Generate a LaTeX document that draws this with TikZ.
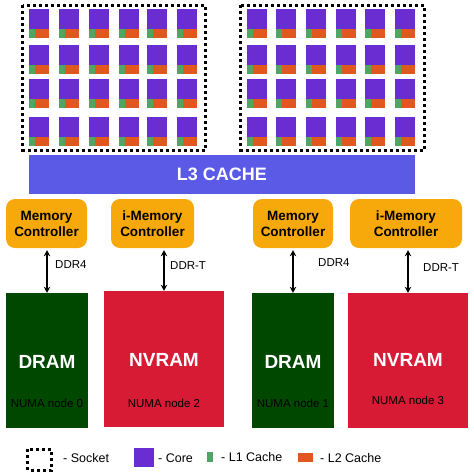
\documentclass[tikz,border=0pt]{standalone}
\usepackage{fontspec}
\setmainfont{Liberation Sans}
\usetikzlibrary{arrows.meta}
\definecolor{corepurple}{RGB}{106,45,210}
\definecolor{lonegreen}{RGB}{80,165,100}
\definecolor{ltwoorange}{RGB}{224,88,32}
\definecolor{lthreeblue}{RGB}{90,90,230}
\definecolor{ctrlorange}{RGB}{247,168,10}
\definecolor{dramgreen}{RGB}{0,72,0}
\definecolor{nvramred}{RGB}{216,27,52}
\begin{document}
\begin{tikzpicture}[x=1pt,y=-1pt]
\useasboundingbox (0,0) rectangle (474,474);
\tikzset{
  sock/.style={draw=black, line width=3pt, dash pattern=on 3pt off 3pt},
  ctrlbox/.style={fill=ctrlorange, rounded corners=9pt, minimum height=49pt, inner sep=0pt,
    align=center, font=\bfseries\fontsize{13.5}{16}\selectfont},
  membox/.style={minimum height=135pt, inner sep=0pt},
  memtitle/.style={text=white, inner sep=0pt, font=\bfseries\fontsize{19}{22}\selectfont},
  numatxt/.style={text=black, inner sep=0pt, font=\fontsize{11.5}{13}\selectfont},
  ddrtxt/.style={anchor=west, inner sep=0pt, font=\fontsize{11.5}{13}\selectfont},
  legtxt/.style={anchor=west, inner sep=0pt, font=\fontsize{12.5}{14}\selectfont},
  bus/.style={line width=1.5pt, {Stealth[length=6pt,width=6.5pt]}-{Stealth[length=6pt,width=6.5pt]}},
}
% sockets
\draw[sock] (22.5,5) rectangle (205,150);
\draw[sock] (240.5,5) rectangle (424,150);
% cores
\foreach \x in {29.3,58.7,88.7,118.7,147.3,177.3,246.7,276.3,306.3,336.3,365,395}{
  \foreach \y in {9.3,45,79.3,116.7}{
    \fill[corepurple] (\x,\y) rectangle ++(20,20);
    \fill[lonegreen] (\x,\y+20) rectangle ++(6,9);
    \fill[ltwoorange] (\x+6,\y+20) rectangle ++(14,9);
  }
}
% L3
\node[fill=lthreeblue, minimum width=386pt, minimum height=39pt, inner sep=0pt,
  text=white, font=\bfseries\fontsize{18}{20}\selectfont] (l3) at (222,174.5) {L3 CACHE};
% controllers
\node[ctrlbox, minimum width=81pt] (c1) at (46.5,223.5) {Memory\\Controller};
\node[ctrlbox, minimum width=83pt] (c2) at (152.5,223.5) {i-Memory\\Controller};
\node[ctrlbox, minimum width=80pt] (c3) at (293,223.5) {Memory\\Controller};
\node[ctrlbox, minimum width=112pt] (c4) at (406,223.5) {i-Memory\\Controller};
% memories
\node[membox, fill=dramgreen, minimum width=82pt] (m1) at (47,360.5) {};
\node[membox, fill=nvramred, minimum width=120pt, minimum height=136pt] (m2) at (164,359) {};
\node[membox, fill=dramgreen, minimum width=82pt] (m3) at (293,360.5) {};
\node[membox, fill=nvramred, minimum width=120pt] (m4) at (408,360.5) {};
\node[memtitle] (t1) at (47,362) {DRAM};
\node[memtitle] (t2) at (164,360) {NVRAM};
\node[memtitle] (t3) at (293,362) {DRAM};
\node[memtitle] (t4) at (408,360) {NVRAM};
\node[numatxt] (n1) at (47,403) {NUMA node 0};
\node[numatxt] (n2) at (164,403) {NUMA node 2};
\node[numatxt] (n3) at (293,403) {NUMA node 1};
\node[numatxt] (n4) at (408,400) {NUMA node 3};
% buses
\draw[bus] (m1.north |- c1.south) ++(0,2) coordinate (b1) -- (m1.north);
\draw[bus] (m2.north |- c2.south) ++(0,2) coordinate (b2) -- (m2.north);
\draw[bus] (m3.north |- c3.south) ++(0,2) coordinate (b3) -- (m3.north);
\draw[bus] (m4.north |- c4.south) ++(0,2) coordinate (b4) -- (m4.north);
\node[ddrtxt] (d1) at (55,265) {DDR4};
\node[ddrtxt] (d2) at (170,266) {DDR-T};
\node[ddrtxt] (d3) at (318,263) {DDR4};
\node[ddrtxt] (d4) at (423,268) {DDR-T};
% legend
\draw[sock] (27.5,449) rectangle (51,470);
\node[legtxt] (lg1) at (63,458) {- Socket};
\fill[corepurple] (134,448) rectangle (154,467);
\node[legtxt] (lg2) at (158,458) {- Core};
\fill[lonegreen] (207,452) rectangle (213,462);
\node[legtxt] (lg3) at (221,457) {- L1 Cache};
\fill[ltwoorange] (298,453) rectangle (313,462);
\node[legtxt] (lg4) at (320,458) {- L2 Cache};
\end{tikzpicture}
\end{document}
